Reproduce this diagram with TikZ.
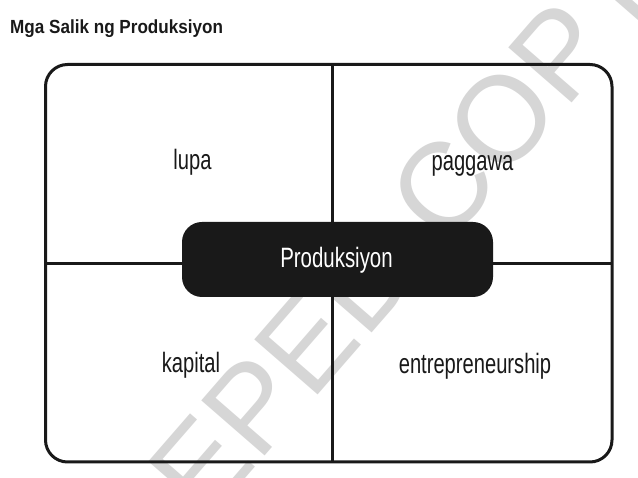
\documentclass[tikz,border=0pt]{standalone}
\usepackage{fontspec}
\setmainfont{Liberation Sans}
\usepackage{graphicx}
\newcommand\narrowtxt[2]{\scalebox{#1}[1]{#2}}
\begin{document}
\begin{tikzpicture}[x=1pt,y=-1pt,
  frame/.style={line width=3pt, draw=black!90},
  divider/.style={line width=3pt, draw=black!90},
  lbl/.style={anchor=base, inner sep=0pt, font=\fontsize{28}{30}\selectfont, text=black!90},
  core/.style={fill=black!90, rounded corners=20pt, minimum width=311pt, minimum height=75pt, inner sep=0pt},
  wm/.style={text=black!16, font=\fontsize{122}{130}\selectfont, rotate=49, inner sep=0pt}]
\useasboundingbox (0,0) rectangle (638,478);
\fill[white] (0,0) rectangle (638,478);
\node[wm] (mark) at (378,262) {DEPED COPY};
\node[anchor=base west, inner sep=0pt, font=\bfseries\fontsize{19}{21}\selectfont, text=black!90] (title) at (10,34) {\narrowtxt{0.9}{Mga Salik ng Produksiyon}};
\coordinate (tl) at (45.5,64.5);
\coordinate (br) at (612,462);
\coordinate (top) at (332,64.5);
\coordinate (bot) at (332,462);
\coordinate (lft) at (45.5,264);
\coordinate (rgt) at (612,264);
\draw[frame, rounded corners=22pt] (tl) rectangle (br);
\draw[divider] (top) -- (bot);
\draw[divider] (lft) -- (rgt);
\node[core] (prod) at (337.5,259.5) {};
\node[lbl, text=white] (prodtxt) at (336.5,268) {\narrowtxt{0.73}{Produksiyon}};
\node[lbl] (lupa) at (192.5,169.5) {\narrowtxt{0.72}{lupa}};
\node[lbl] (paggawa) at (472.5,171) {\narrowtxt{0.72}{paggawa}};
\node[lbl] (kapital) at (191,373) {\narrowtxt{0.72}{kapital}};
\node[lbl] (entre) at (475,374) {\narrowtxt{0.72}{entrepreneurship}};
\end{tikzpicture}
\end{document}
